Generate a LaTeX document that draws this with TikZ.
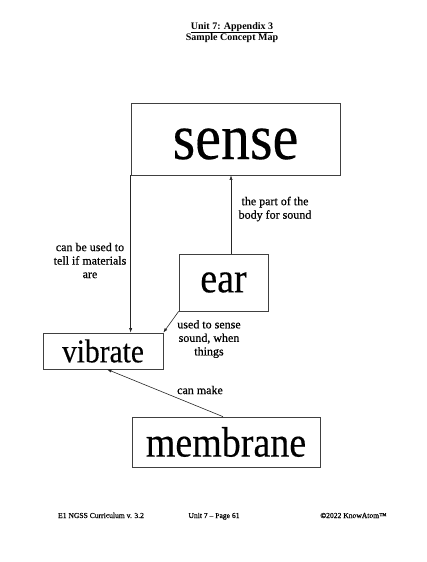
\documentclass[tikz,border=0pt]{standalone}
\usepackage{fontspec}
\setmainfont{Liberation Serif}
\newfontface\lblfont[FakeBold=0.5]{Liberation Serif}
\newfontface\bigfont[FakeBold=0.25]{Liberation Serif}
\usetikzlibrary{arrows.meta}
\newcommand{\tallword}[1]{\scalebox{1}[1.12]{#1}}
\tikzset{
  concept/.style={draw=black!75, line width=0.7pt, rectangle, inner sep=0pt, align=center},
  lbl/.style={font=\lblfont\fontsize{12}{13.5}\selectfont, align=center, inner sep=0pt},
  foot/.style={font=\lblfont\fontsize{7.6}{9}\selectfont, anchor=base, inner sep=0pt},
  ttl/.style={font=\fontsize{10}{12}\selectfont\bfseries, anchor=base, inner sep=0pt},
  link/.style={draw=black!85, line width=0.6pt, -{Latex[length=4.5pt,width=3.2pt]}}
}
\begin{document}
\begin{tikzpicture}[x=1pt,y=-1pt]
\useasboundingbox (0,0) rectangle (426,562);
% title
\node[ttl] (t1) at (232,29) {\underline{Unit 7: Appendix 3}};
\node[ttl] (t2) at (232,40.5) {Sample Concept Map};
% concepts
\node[concept, minimum width=209pt, minimum height=72pt, font=\bigfont\fontsize{58}{60}\selectfont, text height=40pt, text depth=0pt] (sense) at (235.5,139) {\tallword{sense}};
\node[concept, minimum width=89pt, minimum height=57pt, font=\bigfont\fontsize{38}{40}\selectfont] (ear) at (223.5,282.5) {\tallword{ear}};
\node[concept, minimum width=120pt, minimum height=36pt, font=\bigfont\fontsize{29.5}{31}\selectfont] (vibrate) at (103,351) {\tallword{vibrate}};
\node[concept, minimum width=188pt, minimum height=50pt, font=\bigfont\fontsize{38}{40}\selectfont] (membrane) at (226,442) {\tallword{membrane}};
% connectors
\draw[link] (sense.south west) -- (sense.south west |- vibrate.north);
\draw[link] ([xshift=7.5pt]ear.north) -- ([xshift=7.5pt]ear.north |- sense.south);
\draw[link] (ear.south west) -- (vibrate.north east);
\draw[link] ([xshift=-3pt]membrane.north) -- ([xshift=4pt]vibrate.south);
% labels
\node[lbl] (l1) at (275,209) {the part of the\\body for sound};
\node[lbl] (l2) at (90,260.5) {can be used to\\tell if materials\\are};
\node[lbl] (l3) at (209,339) {used to sense\\sound, when\\things};
\node[lbl] (l4) at (200,390) {can make};
% footer
\node[foot] (f1) at (101,518) {E1 NGSS Curriculum v. 3.2};
\node[foot] (f2) at (214,518) {Unit 7 – Page 61};
\node[foot] (f3) at (353.5,518) {©2022 KnowAtom™};
\end{tikzpicture}
\end{document}
